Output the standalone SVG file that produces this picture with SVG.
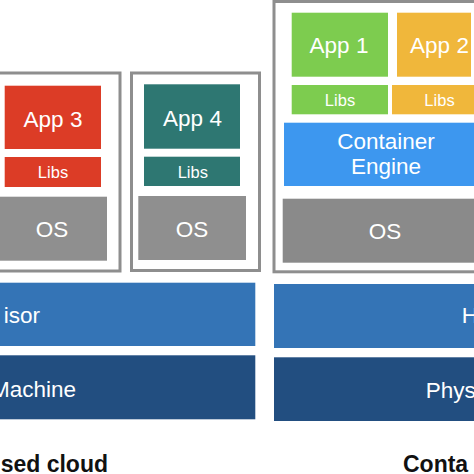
<svg xmlns="http://www.w3.org/2000/svg" width="474" height="474" viewBox="0 0 474 474">
<style>
text{font-family:"Liberation Sans",Arial,Helvetica,sans-serif;fill:#fff;text-anchor:middle}
.big{font-size:22.5px}
.sm{font-size:16.5px}
.title{font-size:23px;font-weight:bold;fill:#111}
.frame{fill:none;stroke:#8e8e8e;stroke-width:3}
.os{fill:#8f8f8f}
</style>
<rect width="474" height="474" fill="#fff"/>
<g id="vm-left">
<rect class="frame" x="-20" y="73" width="140" height="198"/>
<g id="app3"><rect x="4.7" y="85.7" width="96.3" height="63.3" fill="#dc3c26"/><text class="big" x="53" y="126.7">App 3</text></g>
<g id="libs3"><rect x="4.7" y="157" width="96.3" height="30" fill="#dc3c26"/><text class="sm" x="53" y="178.3">Libs</text></g>
<g id="os-left"><rect class="os" x="-5" y="196.7" width="112" height="64"/><text class="big" x="52" y="236.7">OS</text></g>
</g>
<g id="vm-right">
<rect class="frame" x="131.5" y="73" width="128" height="197.5"/>
<g id="app4"><rect x="144" y="84.3" width="96" height="64.4" fill="#2e7772"/><text class="big" x="192.5" y="125.7">App 4</text></g>
<g id="libs4"><rect x="144" y="156.7" width="96" height="29.3" fill="#2e7772"/><text class="sm" x="192.8" y="178">Libs</text></g>
<g id="os-mid"><rect class="os" x="138.3" y="196" width="107.7" height="64"/><text class="big" x="192" y="236.7">OS</text></g>
</g>
<g id="container-host">
<rect class="frame" x="274" y="1.5" width="220" height="270.3"/>
<g id="app1"><rect x="291.7" y="12.7" width="96.3" height="64" fill="#7dcc4f"/><text class="big" x="339" y="53.3">App 1</text></g>
<g id="app2"><rect x="397" y="12.7" width="74" height="64" fill="#f0b73b"/><text class="big" x="439.5" y="53.3">App 2</text></g>
<g id="libs1"><rect x="291.7" y="85" width="96.3" height="29.3" fill="#7dcc4f"/><text class="sm" x="340" y="106">Libs</text></g>
<g id="libs2"><rect x="392" y="85" width="90" height="29.3" fill="#f0b73b"/><text class="sm" x="439.5" y="106">Libs</text></g>
<g id="engine"><rect x="284" y="122.7" width="200" height="63.3" fill="#3d97ef"/><text class="big" x="386" y="149"><tspan x="386">Container</tspan><tspan x="386" y="174">Engine</tspan></text></g>
<g id="os-right"><rect class="os" x="282.7" y="198.7" width="200" height="64" style="fill:#8a8a8a"/><text class="big" x="385" y="239.3">OS</text></g>
</g>
<g id="hypervisor-left"><rect x="-5" y="282.7" width="260.3" height="63.3" fill="#3474b6"/><text class="big" x="40" y="323.3" style="text-anchor:end">isor</text></g>
<g id="physical-left"><rect x="-5" y="355.3" width="260.3" height="64" fill="#224e80"/><text class="big" x="76" y="396.7" style="text-anchor:end">Machine</text></g>
<g id="hypervisor-right"><rect x="274" y="284" width="210" height="64" fill="#3474b6"/><text class="big" x="461.7" y="323.3" style="text-anchor:start">H</text></g>
<g id="physical-right"><rect x="274" y="357.3" width="210" height="63.7" fill="#224e80"/><text class="big" x="425.7" y="398.3" style="text-anchor:start">Phys</text></g>
<g id="connectors"/>
<text class="title" x="108" y="472" style="text-anchor:end">sed cloud</text>
<text class="title" x="403" y="472" style="text-anchor:start">Conta</text>
</svg>
